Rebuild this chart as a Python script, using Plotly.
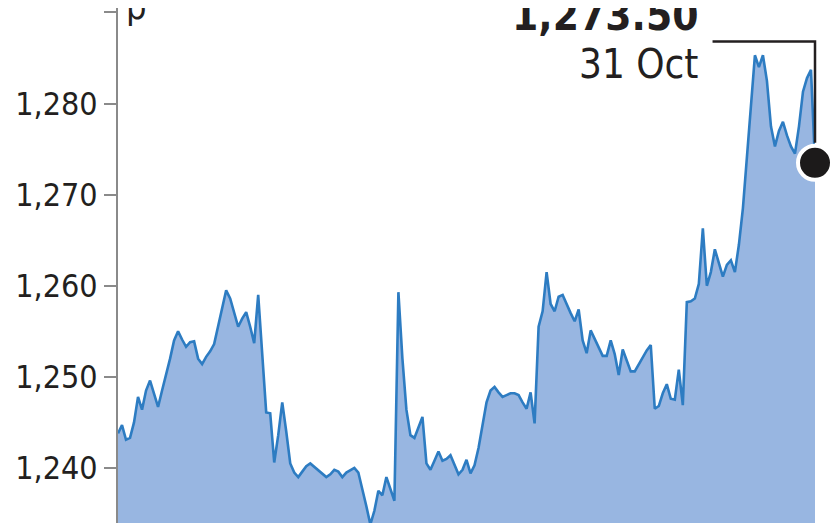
import pandas as pd
import plotly.graph_objects as go

# Trading days (x categories) ending 31 Oct
dates = [d.strftime("%Y-%m-%d") for d in pd.bdate_range(end="2014-10-31", periods=175)]

# Share price, pence
prices = [
    1243.8, 1244.7, 1243.1, 1243.3, 1245.0, 1247.8, 1246.4, 1248.5, 1249.6, 1248.0,
    1246.7, 1248.5, 1250.2, 1252.0, 1254.0, 1255.0, 1254.1, 1253.3, 1253.8, 1253.9,
    1252.0, 1251.4, 1252.2, 1252.8, 1253.6, 1255.5, 1257.6, 1259.5, 1258.6, 1257.0,
    1255.5, 1256.4, 1257.1, 1255.5, 1253.7, 1259.0, 1252.0, 1246.1, 1246.0, 1240.6,
    1243.6, 1247.2, 1244.0, 1240.5, 1239.5, 1239.0, 1239.6, 1240.2, 1240.5, 1240.1,
    1239.7, 1239.3, 1239.0, 1239.3, 1239.8, 1239.6, 1239.0, 1239.5, 1239.8, 1240.0,
    1239.5, 1237.8, 1235.8, 1233.8, 1235.3, 1237.5, 1237.0, 1239.0, 1237.8, 1236.4,
    1259.3, 1252.0, 1246.4, 1243.6, 1243.3, 1244.4, 1245.6, 1240.5, 1239.8, 1240.8,
    1241.8, 1240.8, 1241.0, 1241.4, 1240.3, 1239.3, 1239.8, 1240.9, 1239.4, 1240.3,
    1242.2, 1244.5, 1247.2, 1248.5, 1248.9, 1248.3, 1247.8, 1248.0, 1248.2, 1248.2,
    1248.0, 1247.2, 1246.5, 1248.3, 1244.9, 1255.5, 1257.2, 1261.5, 1258.0, 1257.2,
    1258.8, 1259.0, 1257.9, 1257.0, 1256.1, 1257.4, 1254.0, 1252.6, 1255.1, 1254.2,
    1253.3, 1252.3, 1252.3, 1254.0, 1252.5, 1250.2, 1253.0, 1251.8, 1250.6, 1250.6,
    1251.4, 1252.2, 1252.9, 1253.5, 1246.5, 1246.8, 1248.2, 1249.2, 1247.6, 1247.5,
    1250.8, 1246.9, 1258.2, 1258.3, 1258.6, 1260.2, 1266.3, 1260.0, 1261.5, 1264.0,
    1262.5, 1261.0, 1262.3, 1262.8, 1261.5, 1264.5, 1268.5, 1274.0, 1280.5, 1285.3,
    1284.0, 1285.3, 1282.5, 1277.5, 1275.3, 1277.0, 1278.0, 1276.5, 1275.3, 1274.5,
    1277.5, 1281.3, 1282.8, 1283.7, 1273.5,
]

tick_vals = [1240, 1250, 1260, 1270, 1280, 1290]
tick_text = ["1,240", "1,250", "1,260", "1,270", "1,280", "1,290"]
last_label = "1,273.50"
last_date_label = "31 Oct"
unit_label = "p"

FONT = "DejaVu Sans Condensed, DejaVu Sans, sans-serif"
INK = "#231f20"

fig = go.Figure()
fig.add_trace(go.Scatter(
    x=dates, y=prices, mode="lines",
    line=dict(color="#2d7cc2", width=2.6),
    fill="tozeroy", fillcolor="#98b6e1",
    hoverinfo="skip",
))
fig.add_trace(go.Scatter(
    x=[dates[-1]], y=[prices[-1]], mode="markers",
    marker=dict(size=34, color="#1c1a1a", line=dict(color="white", width=4)),
    cliponaxis=False, hoverinfo="skip",
))

fig.update_layout(
    width=831, height=515,
    margin=dict(l=110, r=24, t=0, b=0, autoexpand=False),
    paper_bgcolor="white", plot_bgcolor="white",
    showlegend=False,
    font=dict(family=FONT, color=INK),
    xaxis=dict(type="category", visible=False, range=[0, len(dates) - 1]),
    yaxis=dict(
        range=[1233.96, 1290.49],
        automargin=False,
        tickvals=tick_vals, ticktext=tick_text,
        tickfont=dict(size=32, family=FONT, color=INK),
        ticks="outside", ticklen=12, tickwidth=2, tickcolor="#8a8a8a",
        showline=True, linecolor="#8a8a8a", linewidth=2,
        showgrid=False, zeroline=False,
        ticklabelstandoff=0,
    ),
    shapes=[dict(
        type="path", xref="paper", yref="y",
        path="M 0.853 1286.8 L 1.0 1286.8 L 1.0 1275.7",
        line=dict(color=INK, width=2.5),
    )],
    annotations=[
        dict(text="<b>" + last_label + "</b>", xref="paper", yref="y",
             x=0.835, y=1286.8, xanchor="right", yanchor="bottom",
             showarrow=False, font=dict(size=42, family=FONT, color=INK)),
        dict(text=last_date_label, xref="paper", yref="y",
             x=0.835, y=1284.3, xanchor="right", yanchor="middle",
             showarrow=False, font=dict(size=40, family=FONT, color=INK)),
        dict(text=unit_label, xref="paper", yref="y",
             x=0.0, y=1288.2, xanchor="left", yanchor="bottom", xshift=6,
             showarrow=False, font=dict(size=36, family=FONT, color=INK)),
    ],
)

fig.write_html("out.html")
